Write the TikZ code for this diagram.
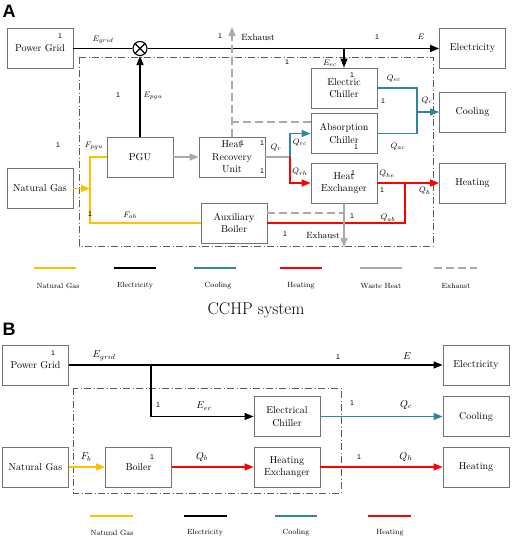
\documentclass[tikz,border=0pt]{standalone}
\usepackage{fontspec}
\newfontfamily\panelfont{Liberation Sans}
\usetikzlibrary{arrows.meta}
\definecolor{gasc}{RGB}{255,192,0}
\definecolor{coolc}{RGB}{49,133,156}
\definecolor{heatc}{RGB}{255,0,0}
\definecolor{wastec}{RGB}{170,170,170}
\definecolor{framec}{RGB}{90,90,90}
\tikzset{
    unit/.style={
            draw=black!55,
            line width=0.8pt,
            minimum width=66pt,
            minimum height=40pt,
            inner sep=1pt, % keep three lines inside
            align=center,
            font=\fontsize{10}{12.5}\selectfont
        }
}
\tikzset{
    flow/.style={
            line width=1.3pt,
            {#1}
        },
    flow/.default={black}
}
\tikzset{
    exhaust/.style={
            line width=1.1pt,
            wastec,
            dash pattern=on 8pt off 4pt
        }
}
\tikzset{
    arrowtip/.style={
            -{Triangle[length=9pt,width=7pt]}
        }
}
\tikzset{
    boundary/.style={
            draw=framec,
            line width=0.9pt,
            dash pattern=on 7pt off 2.5pt on 1pt off 2.5pt
        }
}
\tikzset{
    flowlab/.style={
            inner sep=0pt,
            font=\fontsize{#1}{#1}\selectfont
        },
    flowlab/.default={8}
}
\tikzset{
    keylab/.style={
            inner sep=0pt,
            font=\fontsize{7.5}{8}\selectfont
        }
}
\tikzset{
    onemark/.style={
            inner sep=0pt,
            font=\panelfont\fontsize{7}{7}\selectfont
        }
}
\newcommand{\onemark}[2]{\node[onemark] (#1) at (#2) {1};}

\begin{document}
\begin{tikzpicture}[x=1pt, y=-1pt]
    \useasboundingbox (0,0) rectangle (512,538);
    %
    % ---------------- A ----------------
    \node[font=\panelfont\bfseries\fontsize{18}{18}\selectfont] (panA) at (9,11) {A};
    \draw[boundary] (79,57) rectangle (433,246);
    %
    \node[unit] (gridA) at (40,48.5) {Power Grid};
    \node[unit] (elecA) at (472.5,48.5) {Electricity};
    \node[unit] (coolA) at (472.5,112) {Cooling};
    \node[unit] (heatA) at (472.5,183) {Heating};
    \node[unit] (gasA) at (40,188.5) {Natural Gas};
    \node[unit] (pgu) at (140,157) {PGU};
    \node[unit] (hru) at (232,157) {Heat\\Recovery\\Unit};
    \node[unit] (aux) at (234,223) {Auxiliary\\Boiler};
    \node[unit] (ecA) at (344,88) {Electric\\Chiller};
    \node[unit] (absc) at (344,133.5) {Absorption\\Chiller};
    \node[unit] (hxA) at (344,183) {Heat\\Exchanger};
    \node[draw, circle, line width=1.1pt, minimum size=14pt, inner sep=0pt] (mix) at (140,48.5) {};
    \draw[line width=1.1pt] (mix.north west) -- (mix.south east) (mix.north east) -- (mix.south west);
    %
    \coordinate (ecTap) at (344,48.5);
    \coordinate (gasJ) at (90,188.5);
    \coordinate (qrJ) at (290,157);
    \coordinate (qcJ) at (417,112);
    \coordinate (qhJ) at (405,183);
    \coordinate (exTop) at (232,27);
    \coordinate (exJ) at (232,122);
    \coordinate (exBot) at (344,247);
    \coordinate (exK) at (344,213);
    %
    % electricity
    \draw[flow] (gridA.east) -- (mix.west);
    \draw[flow, arrowtip] (mix.east) -- (elecA.west);
    \draw[flow, arrowtip] (pgu.north) -- (mix.south);
    \draw[flow, arrowtip] (ecTap) -- (ecA.north);
    % natural gas
    \draw[flow=gasc, arrowtip] (gasA.east) -- (gasJ);
    \draw[flow=gasc] (pgu.west) -| (gasJ) |- (aux.west);
    % waste heat
    \draw[flow=wastec, arrowtip] (pgu.east) -- (hru.west);
    \draw[flow=wastec] (hru.east) -- (qrJ);
    \draw[flow=coolc, arrowtip] (qrJ) |- (absc.west);
    \draw[flow=heatc, arrowtip] (qrJ) |- (hxA.west);
    % cooling
    \draw[flow=coolc] (ecA.east) -| (qcJ);
    \draw[flow=coolc] (absc.east) -| (qcJ);
    \draw[flow=coolc, arrowtip] (qcJ) -- (coolA.west);
    % heating
    \draw[flow=heatc, arrowtip] (hxA.east) -- (heatA.west);
    \draw[flow=heatc] (aux.east) -| (qhJ);
    % exhaust
    \draw[exhaust, arrowtip] (hru.north) -- (exTop);
    \draw[exhaust] (absc.west |- exJ) -- (exJ);
    \draw[exhaust] (aux.east |- exK) -- (exK);
    \draw[flow=wastec, line width=1.1pt, arrowtip] (hxA.south) -- (exBot);
    %
    \node[flowlab] (lEgridA) at (103,40) {$E_{grid}$};
    \node[flowlab] (lEpgu) at (153,96) {$E_{pgu}$};
    \node[flowlab=9] (lExTop) at (258,37) {Exhaust};
    \node[flowlab] (lEA) at (421,37) {$E$};
    \node[flowlab] (lEecA) at (330,63) {$E_{ec}$};
    \node[flowlab] (lFpgu) at (94,146) {$F_{pgu}$};
    \node[flowlab] (lFab) at (130,215) {$F_{ab}$};
    \node[flowlab] (lQr) at (276,148) {$Q_r$};
    \node[flowlab] (lQrc) at (300,143) {$Q_{rc}$};
    \node[flowlab] (lQrh) at (300,172) {$Q_{rh}$};
    \node[flowlab] (lQec) at (394,79) {$Q_{ec}$};
    \node[flowlab] (lQcA) at (427,101) {$Q_c$};
    \node[flowlab] (lQac) at (398,147) {$Q_{ac}$};
    \node[flowlab] (lQhe) at (387,174) {$Q_{he}$};
    \node[flowlab] (lQhA) at (425,191) {$Q_h$};
    \node[flowlab] (lQab) at (388,218) {$Q_{ab}$};
    \node[flowlab=9] (lExBot) at (323,235) {Exhaust};
    %
    \onemark{oA1}{60,36}
    \onemark{oA2}{220,36}
    \onemark{oA3}{377,37}
    \onemark{oA4}{118,95}
    \onemark{oA5}{58,145}
    \onemark{oA6}{90,214}
    \onemark{oA7}{287,62}
    \onemark{oA8}{352,75}
    \onemark{oA9}{383,101}
    \onemark{oA10}{356,147}
    \onemark{oA11}{262,143}
    \onemark{oA12}{262,171}
    \onemark{oA13}{242,143}
    \onemark{oA14}{353,173}
    \onemark{oA15}{382,190}
    \onemark{oA16}{352,216}
    \onemark{oA17}{285,234}
    %
    % legend A
    \draw[flow=gasc] (34,268) -- (76,268);
    \draw[flow] (114,268) -- (156,268);
    \draw[flow=coolc] (194,268) -- (236,268);
    \draw[flow=heatc] (280,268) -- (322,268);
    \draw[flow=wastec] (360,268) -- (402,268);
    \draw[exhaust] (434,268) -- (477,268);
    \node[keylab] (kGasA) at (58,286) {Natural Gas};
    \node[keylab] (kElecA) at (135,286) {Electricity};
    \node[keylab] (kCoolA) at (218,286) {Cooling};
    \node[keylab] (kHeatA) at (301,286) {Heating};
    \node[keylab] (kWaste) at (381,286) {Waste Heat};
    \node[keylab] (kExh) at (456,286) {Exhaust};
    \node[font=\fontsize{17}{20}\selectfont] (title) at (256,310) {CCHP system};
    %
    % ---------------- B ----------------
    \node[font=\panelfont\bfseries\fontsize{18}{18}\selectfont] (panB) at (9,329) {B};
    \draw[boundary] (73,388) rectangle (341,493);
    %
    \node[unit] (gridB) at (35.5,365) {Power Grid};
    \node[unit] (elecB) at (476,365) {Electricity};
    \node[unit] (coolB) at (476,416.5) {Cooling};
    \node[unit] (heatB) at (476,467) {Heating};
    \node[unit] (gasB) at (35.5,467) {Natural Gas};
    \node[unit] (boil) at (138.5,467) {Boiler};
    \node[unit] (ecB) at (287,416.5) {Electrical\\Chiller};
    \node[unit] (hxB) at (287,467) {Heating\\Exchanger};
    %
    \coordinate (tapB) at (151,365);
    %
    \draw[flow, arrowtip] (gridB.east) -- (elecB.west);
    \draw[flow, arrowtip] (tapB) |- (ecB.west);
    \draw[flow=gasc, arrowtip] (gasB.east) -- (boil.west);
    \draw[flow=heatc, arrowtip] (boil.east) -- (hxB.west);
    \draw[flow=coolc, arrowtip] (ecB.east) -- (coolB.west);
    \draw[flow=heatc, arrowtip] (hxB.east) -- (heatB.west);
    %
    \node[flowlab=10] (lEgridB) at (104,356) {$E_{grid}$};
    \node[flowlab=10] (lEB) at (407,356) {$E$};
    \node[flowlab=10] (lEecB) at (204,406) {$E_{ec}$};
    \node[flowlab=10] (lFb) at (86,457) {$F_b$};
    \node[flowlab=10] (lQb) at (202,457) {$Q_b$};
    \node[flowlab=10] (lQcB) at (406,405) {$Q_c$};
    \node[flowlab=10] (lQhB) at (406,457) {$Q_h$};
    %
    \onemark{oB1}{53,353}
    \onemark{oB2}{338,357}
    \onemark{oB3}{158,405}
    \onemark{oB4}{152,457}
    \onemark{oB5}{352,403}
    \onemark{oB6}{359,457}
    %
    % legend B
    \draw[flow=gasc] (90,516) -- (133,516);
    \draw[flow] (184,516) -- (227,516);
    \draw[flow=coolc] (275,516) -- (317,516);
    \draw[flow=heatc] (368,516) -- (411,516);
    \node[keylab] (kGasB) at (112,533) {Natural Gas};
    \node[keylab] (kElecB) at (205,533) {Electricity};
    \node[keylab] (kCoolB) at (296,533) {Cooling};
    \node[keylab] (kHeatB) at (390,533) {Heating};
\end{tikzpicture}
\end{document}
